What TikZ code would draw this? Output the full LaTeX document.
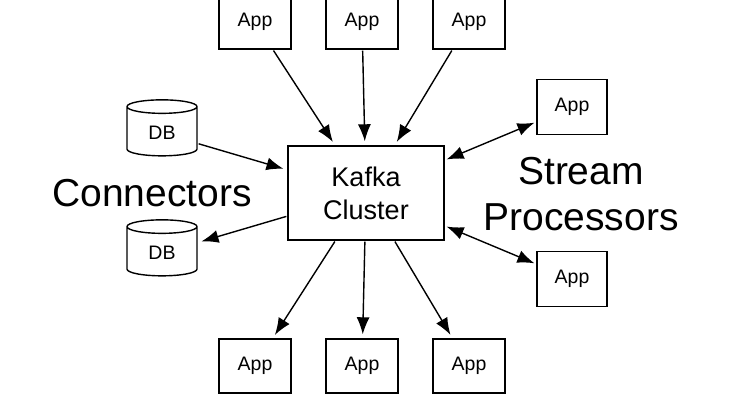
\documentclass[tikz,border=0pt]{standalone}
\usepackage{fontspec}
\setmainfont{Liberation Sans}
\usetikzlibrary{shapes.geometric,arrows.meta}
\tikzset{
  app/.style={draw,line width=1.4pt,minimum width=72pt,minimum height=54pt,font=\fontsize{19.5}{22}\selectfont},
  db/.style={draw,line width=1.4pt,cylinder,shape border rotate=90,aspect=0.4,minimum width=70pt,minimum height=56pt,font=\fontsize{19.5}{22}\selectfont},
  link/.style={line width=1.4pt,-{Latex[length=17pt,width=13pt]},shorten >=4pt,shorten <=1pt},
  dlink/.style={line width=1.4pt,{Latex[length=17pt,width=13pt]}-{Latex[length=17pt,width=13pt]},shorten >=2pt,shorten <=2pt},
  big/.style={font=\fontsize{39}{44}\selectfont,align=center}
}
\begin{document}
\begin{tikzpicture}[x=1pt,y=-1pt]
\useasboundingbox (0,0) rectangle (744,400);
\node[draw,line width=1.4pt,minimum width=156pt,minimum height=94pt,align=center,font=\fontsize{27}{33}\selectfont] (kafka) at (366,193) {Kafka\\Cluster};
\foreach \x [count=\i] in {255,362,469}{
  \node[app] (top\i) at (\x,22) {App};
  \node[app] (bot\i) at (\x,366) {App};
}
\node[app,minimum width=70pt,minimum height=55pt] (sp1) at (572,107) {App};
\node[app,minimum width=70pt,minimum height=55pt] (sp2) at (572,279) {App};
\node[db] (db1) at (162,133) {DB};
\node[db] (db2) at (162,253) {DB};
\node[big] (conn) at (152,193) {Connectors};
\node[big,font=\fontsize{39}{46}\selectfont] (proc) at (581,194) {Stream\\Processors};

\foreach \i in {1,2,3}{
  \draw[link] (top\i) -- (kafka);
  \draw[link] (kafka) -- (bot\i);
}
\draw[link] (db1) -- (kafka);
\draw[link] (kafka) -- (db2);
\draw[dlink] (kafka) -- (sp1);
\draw[dlink] (kafka) -- (sp2);
\end{tikzpicture}
\end{document}
